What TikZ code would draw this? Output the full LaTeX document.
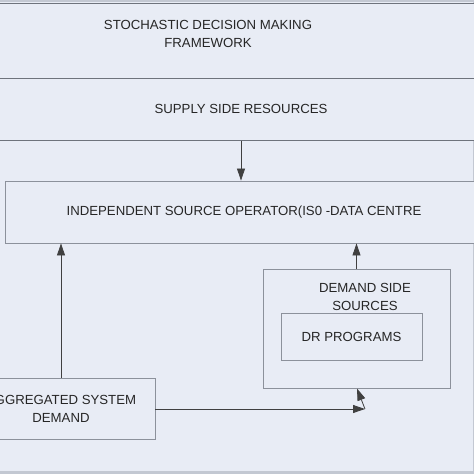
\documentclass[tikz,border=0pt]{standalone}
\usepackage{fontspec}
\setmainfont{Liberation Sans}
\usetikzlibrary{arrows.meta}
\definecolor{bg}{HTML}{E8ECF5}
\definecolor{boxline}{HTML}{8C919B}
\definecolor{sepline}{HTML}{6E737C}
\definecolor{framec}{HTML}{C3C8D2}
\begin{document}
\begin{tikzpicture}[x=1pt,y=-1pt,
  font=\fontsize{13.2}{18}\selectfont,
  box/.style={draw=boxline, line width=0.9pt, fill=bg, inner sep=0pt, align=center},
  sep/.style={draw=sepline, line width=1pt, fill=bg, inner sep=0pt, align=center},
  lbl/.style={inner sep=0pt, align=center, text=black!85},
  arr/.style={draw=black!75, line width=0.8pt, -{Triangle[width=8pt,length=12pt]}}]
\useasboundingbox (0,0) rectangle (474,474);
\clip (0,0) rectangle (474,474);
\fill[bg] (0,0) rectangle (474,474);
% frame edges
\draw[framec, line width=3pt] (-5,0.5) -- (474,0.5);
\draw[framec, line width=3pt] (-5,472.5) -- (474,472.5);
\draw[framec, line width=2pt] (473.5,0) -- (473.5,474);
% title and supply bands
\node[sep, minimum width=490, minimum height=75] (titlebox) at (237,40.5) {};
\node[lbl] (title) at (208,34) {STOCHASTIC DECISION MAKING\\FRAMEWORK};
\node[sep, minimum width=490, minimum height=62, text=black!85] (supply) at (241,109) {SUPPLY SIDE RESOURCES};
% ISO box
\node[box, minimum width=478, minimum height=62, text=black!85] (iso) at (244,212) {INDEPENDENT SOURCE OPERATOR(IS0 -DATA CENTRE};
% demand side box
\node[box, minimum width=187, minimum height=119] (dem) at (356.5,328.5) {};
\node[lbl] (demtxt) at (365,297) {DEMAND SIDE\\SOURCES};
\node[box, minimum width=141, minimum height=47, text=black!85] (dr) at (351.5,336.5) {DR PROGRAMS};
% aggregated demand box
\node[box, minimum width=188, minimum height=61, text=black!85] (agg) at (61,408.5) {AGGREGATED SYSTEM\\DEMAND};
% connectors
\coordinate (hend) at (365,409);
\coordinate (dtip) at (357,388.5);
\draw[arr] (supply.south) -- (supply.south |- iso.north);
\draw[arr] (agg.north) -- (agg.north |- iso.south);
\draw[arr] (dem.north) -- (dem.north |- iso.south);
\draw[arr] (agg.east |- hend) -- (hend);
\draw[arr] (hend) -- (dtip);
\end{tikzpicture}
\end{document}
